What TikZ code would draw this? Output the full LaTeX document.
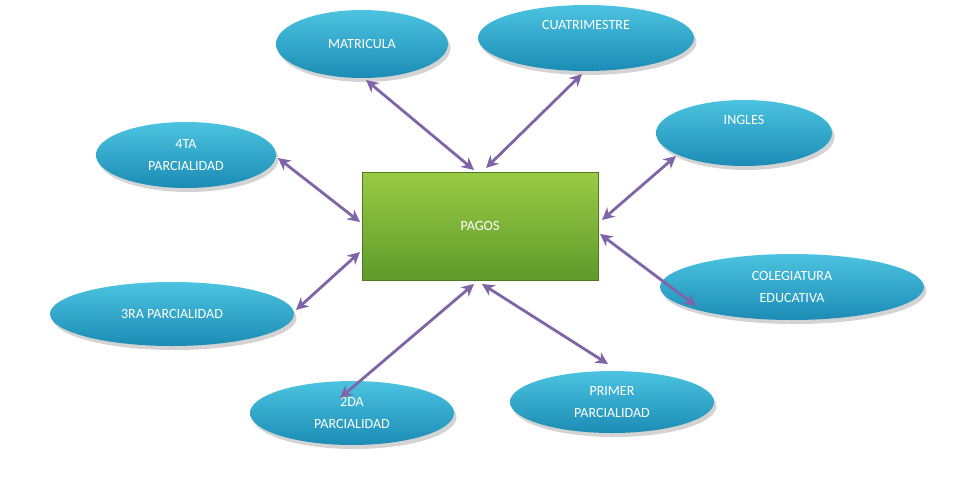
\documentclass[tikz,border=0pt]{standalone}
\usepackage{fontspec}
\setmainfont{Carlito}
\usetikzlibrary{shapes.geometric,arrows.meta,shadows}
\definecolor{elltop}{HTML}{4CC3E0}
\definecolor{ellbot}{HTML}{1B8CB5}
\definecolor{arr}{HTML}{8064A8}
\definecolor{gtop}{HTML}{9BCB45}
\definecolor{gbot}{HTML}{5E9A2A}
\begin{document}
\begin{tikzpicture}[x=0.02cm,y=-0.02cm,
  bub/.style={ellipse,top color=elltop,bottom color=ellbot,draw=none,
    text=white,font=\fontsize{8}{11}\selectfont,align=center,inner sep=0pt,
    drop shadow={shadow xshift=0.5mm,shadow yshift=-0.8mm,opacity=0.35}},
  link/.style={arr,line width=1.6pt,{Stealth[length=7pt,width=7pt]}-{Stealth[length=7pt,width=7pt]}}]
\useasboundingbox (0,0) rectangle (970,490);
\node[draw=gbot!80!black,line width=0.4pt,top color=gtop,bottom color=gbot,minimum width=236*0.02cm,minimum height=108*0.02cm,text=white,font=\fontsize{8}{11}\selectfont,inner sep=0pt] (pagos) at (480,226) {PAGOS};
\node[bub,minimum width=172*0.02cm,minimum height=68*0.02cm] (mat) at (362,44) {MATRICULA};
\node[bub,minimum width=216*0.02cm,minimum height=66*0.02cm] (cua) at (586,38) {CUATRIMESTRE\\[4pt]};
\node[bub,minimum width=176*0.02cm,minimum height=66*0.02cm] (ing) at (744,133) {INGLES\\[4pt]};
\node[bub,minimum width=264*0.02cm,minimum height=66*0.02cm] (col) at (792,287) {COLEGIATURA\\[2pt]EDUCATIVA};
\node[bub,minimum width=204*0.02cm,minimum height=62*0.02cm] (pri) at (612,402) {PRIMER\\[2pt]PARCIALIDAD};
\node[bub,minimum width=204*0.02cm,minimum height=64*0.02cm] (dos) at (352,413) {2DA\\[2pt]PARCIALIDAD};
\node[bub,minimum width=244*0.02cm,minimum height=64*0.02cm] (tres) at (172,314) {3RA PARCIALIDAD};
\node[bub,minimum width=180*0.02cm,minimum height=66*0.02cm] (cua4) at (186,155) {4TA\\[2pt]PARCIALIDAD};
\coordinate (a1) at (366,80); \coordinate (b1) at (474,170);
\coordinate (a2) at (582,74); \coordinate (b2) at (486,168);
\coordinate (a3) at (676,156); \coordinate (b3) at (602,220);
\coordinate (a4) at (696,306); \coordinate (b4) at (600,234);
\coordinate (a5) at (608,364); \coordinate (b5) at (482,284);
\coordinate (a6) at (340,398); \coordinate (b6) at (474,284);
\coordinate (a7) at (296,310); \coordinate (b7) at (360,252);
\coordinate (a8) at (278,158); \coordinate (b8) at (360,222);
\foreach \i in {1,...,8}{\draw[link] (a\i) -- (b\i);}
\end{tikzpicture}
\end{document}
